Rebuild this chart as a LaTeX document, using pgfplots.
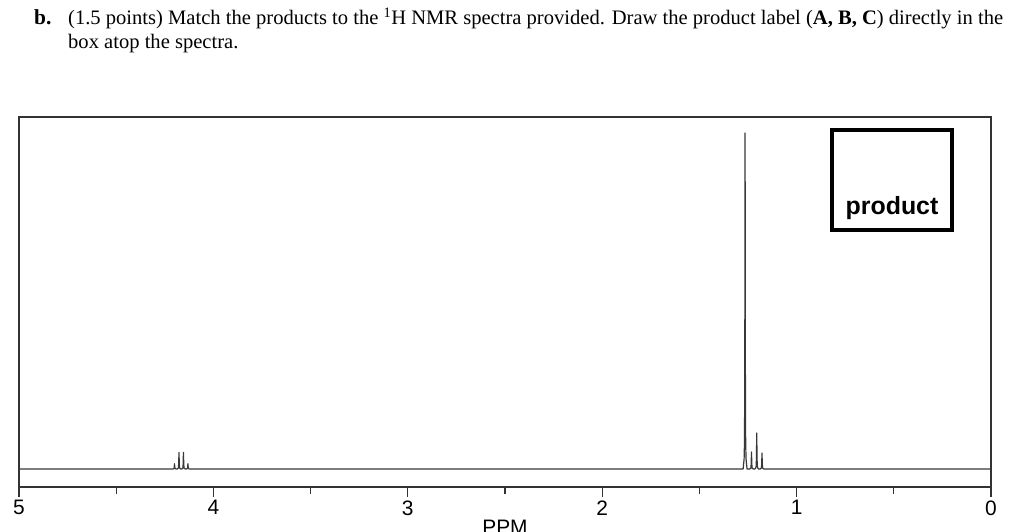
\documentclass[border=0pt]{standalone}
\usepackage{fontspec}
\setmainfont{Liberation Serif}
\newfontfamily\sans{Liberation Sans}
\usepackage{pgfplots}
\pgfplotsset{compat=1.18}
\begin{document}
\begin{tikzpicture}[x=1bp,y=1bp]
\path[use as bounding box] (0,0) rectangle (1024,532);
% title
\node[anchor=base west,inner sep=0pt,font=\fontsize{21.5}{21.5}\selectfont] at (34,507) {\textbf{b.}};
\node[anchor=base west,inner sep=0pt,font=\fontsize{20.65}{20.65}\selectfont] at (68,507) {(1.5 points) Match the products to the \textsuperscript{1}H NMR spectra provided. Draw the product label (\textbf{A, B, C}) directly in the};
\node[anchor=base west,inner sep=0pt,font=\fontsize{20.65}{20.65}\selectfont] at (68,483) {box atop the spectra.};
\begin{axis}[
  at={(19bp,45bp)}, anchor=south west,
  scale only axis, width=972bp, height=370bp,
  xmin=0, xmax=5, ymin=-18, ymax=352,
  x dir=reverse,
  xtick={0,1,2,3,4,5}, minor xtick={0.5,1.5,2.5,3.5,4.5},
  ytick=\empty,
  xtick pos=bottom,
  tick align=outside,
  major tick length=10bp, minor tick length=7bp,
  axis line style={black!80, line width=1.2bp},
  tick style={black!80, line width=1.2bp},
  ticklabel style={font=\sans\fontsize{21}{21}\selectfont},
  /pgf/number format/assume math mode=true,
  xlabel={PPM},
  xlabel style={font=\sans\fontsize{21}{21}\selectfont, yshift=2bp},
]
\addplot[black!78, line width=1.2bp, line join=round] coordinates {
(5,0)
(4.210,0) (4.205,0.2) (4.203,0.5) (4.2015,1.6) (4.2007,3.7) (4.200,5.3) (4.1993,3.7) (4.1985,1.6) (4.197,0.5) (4.195,0.2) (4.190,0)
(4.187,0) (4.182,0.5) (4.180,1.3) (4.1785,5) (4.1777,11.6) (4.177,16.6) (4.1763,11.6) (4.1755,5) (4.174,1.3) (4.172,0.5) (4.167,0)
(4.164,0) (4.159,0.5) (4.157,1.3) (4.1555,5) (4.1547,11.6) (4.154,16.6) (4.1533,11.6) (4.1525,5) (4.151,1.3) (4.149,0.5) (4.144,0)
(4.141,0) (4.136,0.2) (4.134,0.5) (4.1325,1.6) (4.1317,3.7) (4.131,5.3) (4.1303,3.7) (4.1295,1.6) (4.128,0.5) (4.126,0.2) (4.121,0)
(1.275,0) (1.270,10) (1.268,27) (1.2665,100) (1.2657,235) (1.265,336) (1.2643,235) (1.2635,100) (1.262,27) (1.260,10) (1.255,0)
(1.242,0) (1.237,0.5) (1.235,1.4) (1.2335,5.1) (1.2327,12) (1.232,17) (1.2313,12) (1.2305,5.1) (1.229,1.4) (1.227,0.5) (1.222,0)
(1.215,0) (1.210,1.1) (1.208,2.9) (1.2065,10.8) (1.2057,25) (1.205,36) (1.2043,25) (1.2035,10.8) (1.202,2.9) (1.200,1.1) (1.195,0)
(1.188,0) (1.183,0.5) (1.181,1.3) (1.1795,4.8) (1.1787,11.2) (1.178,16) (1.1773,11.2) (1.1765,4.8) (1.175,1.3) (1.173,0.5) (1.168,0)
(0,0)
};
\end{axis}
% product box
\draw[black, line width=3.5bp] (832,302) rectangle (952,402);
\node[anchor=base, inner sep=0pt, font=\sans\bfseries\fontsize{25}{25}\selectfont] at (892,317) {product};
\end{tikzpicture}
\end{document}
